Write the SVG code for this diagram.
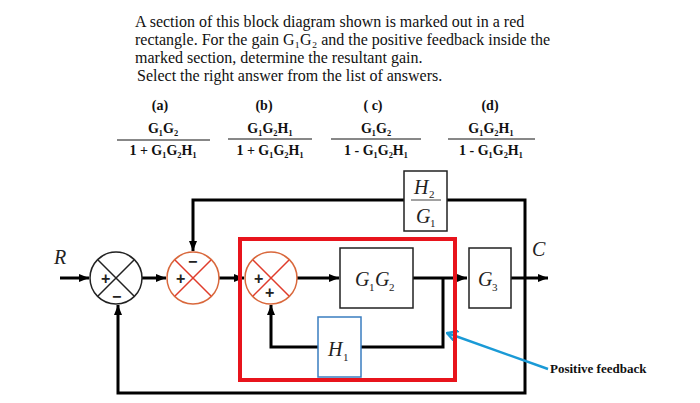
<svg xmlns="http://www.w3.org/2000/svg" width="700" height="403" viewBox="0 0 700 403">
<defs>
<marker id="ah" viewBox="0 0 10 10" refX="10" refY="5" markerWidth="10" markerHeight="10" markerUnits="userSpaceOnUse" orient="auto"><path d="M0,1 L10,5 L0,9 z" fill="#000"/></marker>
<marker id="bh" viewBox="0 0 10 10" refX="9" refY="5" markerWidth="12" markerHeight="12" markerUnits="userSpaceOnUse" orient="auto"><path d="M0,0 L9,5 L0,10" fill="none" stroke="#1a9ad6" stroke-width="2"/></marker>
</defs>
<style>
.t{font-family:"Liberation Serif",serif;font-size:16px;fill:#111}
.b{font-family:"Liberation Serif",serif;font-size:14px;font-weight:bold;fill:#111}
.m{font-family:"Liberation Serif",serif;font-style:italic;font-size:20px;fill:#222}
.s{font-family:"Liberation Serif",serif;font-size:11px;fill:#222}
.w{stroke:#000;stroke-width:3;fill:none}
.box{fill:#fff;stroke:#222;stroke-width:1.5}
.sg{font-family:"Liberation Sans",sans-serif;font-size:16px;font-weight:bold;fill:#222}
</style>
<rect width="700" height="403" fill="#fff"/>
<g id="question">
<text class="t" x="135" y="27">A section of this block diagram shown is marked out in a red</text>
<text class="t" x="135" y="45">rectangle. For the gain G₁G₂ and the positive feedback inside the</text>
<text class="t" x="135" y="63">marked section, determine the resultant gain.</text>
<text class="t" x="137" y="81">Select the right answer from the list of answers.</text>
<g text-anchor="middle">
<text class="b" x="160" y="110">(a)</text><text class="b" x="264" y="110">(b)</text><text class="b" x="373" y="110">( c)</text><text class="b" x="490" y="110">(d)</text>
<text class="b" x="163" y="133">G₁G₂</text><text class="b" x="270" y="133">G₁G₂H₁</text><text class="b" x="376" y="133">G₁G₂</text><text class="b" x="491" y="133">G₁G₂H₁</text>
<text class="b" x="163" y="155">1 + G₁G₂H₁</text><text class="b" x="270" y="155">1 + G₁G₂H₁</text><text class="b" x="376" y="155">1 - G₁G₂H₁</text><text class="b" x="491" y="155">1 - G₁G₂H₁</text>
</g>
<g stroke="#111" stroke-width="1"><line x1="117" y1="140" x2="210" y2="140"/><line x1="228" y1="139" x2="312" y2="139"/><line x1="331" y1="139" x2="421" y2="139"/><line x1="448" y1="139" x2="535" y2="139"/></g>
</g>
<g id="connectors">
<line class="w" x1="60" y1="278" x2="89" y2="278" marker-end="url(#ah)"/>
<line class="w" x1="142" y1="278" x2="166" y2="278" marker-end="url(#ah)"/>
<line class="w" x1="219" y1="278" x2="244" y2="278" marker-end="url(#ah)"/>
<line class="w" x1="297" y1="278" x2="339" y2="278" marker-end="url(#ah)"/>
<polyline class="w" points="413,278 467,278" marker-end="url(#ah)"/>
<line class="w" x1="511" y1="278" x2="548" y2="278" marker-end="url(#ah)"/>
<polyline class="w" points="443,278 443,347 361,347"/>
<polyline class="w" points="318,347 271,347 271,305" marker-end="url(#ah)"/>
<polyline class="w" points="525,278 525,200 447,200"/>
<polyline class="w" points="404,200 193,200 193,251" marker-end="url(#ah)"/>
<polyline class="w" points="525,278 525,393 118,393 118,305" marker-end="url(#ah)"/>
<line x1="548" y1="369" x2="447" y2="333" stroke="#1a9ad6" stroke-width="2.5" marker-end="url(#bh)"/>
</g>
<rect id="marked-section" x="240" y="239" width="215" height="141" fill="none" stroke="#e8141c" stroke-width="4"/>
<g id="sum1"><circle cx="116" cy="278" r="26" fill="#fff" stroke="#222" stroke-width="1.5"/><path d="M98,260 L134,296 M134,260 L98,296" stroke="#222" stroke-width="1.5"/><text class="sg" x="101" y="284">+</text><text class="sg" x="112" y="302">−</text></g>
<g id="sum2"><circle cx="193" cy="278" r="26" fill="#fff" stroke="#d9683c" stroke-width="1.5"/><path d="M175,260 L211,296 M211,260 L175,296" stroke="#e03c2c" stroke-width="1.5"/><text class="sg" x="176" y="284">+</text><text class="sg" x="188" y="267">−</text></g>
<g id="sum3"><circle cx="271" cy="278" r="26" fill="#fff" stroke="#d9683c" stroke-width="1.5"/><path d="M253,260 L289,296 M289,260 L253,296" stroke="#e03c2c" stroke-width="1.5"/><text class="sg" x="254" y="284">+</text><text class="sg" x="265" y="298">+</text></g>
<g id="G1G2"><rect class="box" x="340" y="248" width="73" height="60"/><text class="m" x="355" y="286">G</text><text class="s" x="369" y="291">1</text><text class="m" x="375" y="286">G</text><text class="s" x="389" y="291">2</text></g>
<g id="G3"><rect class="box" x="469" y="248" width="42" height="60"/><text class="m" x="478" y="286">G</text><text class="s" x="492" y="291">3</text></g>
<g id="H1"><rect x="318" y="317" width="43" height="60" fill="#fff" stroke="#3a7dc0" stroke-width="1.5"/><text class="m" x="328" y="356">H</text><text class="s" x="343" y="361">1</text></g>
<g id="H2G1"><rect class="box" x="404" y="171" width="43" height="60"/><text class="m" x="414" y="194">H</text><text class="s" x="429" y="198">2</text><line x1="411" y1="200" x2="441" y2="200" stroke="#444" stroke-width="1"/><text class="m" x="416" y="223">G</text><text class="s" x="430" y="227">1</text></g>
<text class="m" x="54" y="264">R</text>
<text class="m" x="532" y="256">C</text>
<text x="550" y="373" font-family="Liberation Serif,serif" font-size="13" font-weight="bold" fill="#111">Positive feedback</text>
</svg>
